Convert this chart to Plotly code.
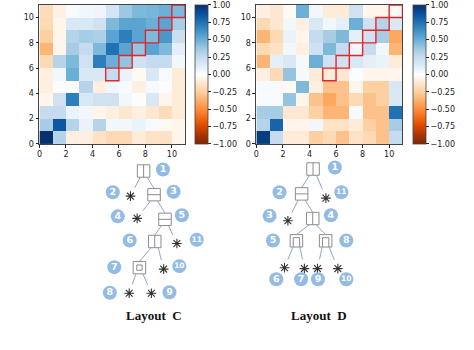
import plotly.graph_objects as go

# ---------------- data ----------------
cells = list(range(11))
axis_ticks = [0, 2, 4, 6, 8, 10]
cbar_vals = [1.0, 0.75, 0.5, 0.25, 0.0, -0.25, -0.5, -0.75, -1.0]
highlight = [5, 6, 7, 8, 9, 10]

# rows listed from top (y=10) to bottom (y=0)
layout_c_rows = [
    [-0.18, -0.07, 0.03, 0.05, 0.06, 0.18, 0.38, 0.45, 0.47, 0.50, 0.45],
    [-0.20, -0.05, 0.15, 0.15, 0.20, 0.45, 0.55, 0.55, 0.50, 0.55, 0.35],
    [-0.25, -0.05, 0.30, 0.35, 0.33, 0.55, 0.70, 0.55, 0.45, 0.60, 0.22],
    [-0.35, -0.05, 0.35, 0.25, 0.45, 0.75, 0.55, 0.40, 0.55, 0.45, 0.10],
    [-0.20, 0.30, 0.45, 0.20, 0.70, 0.50, 0.40, 0.20, 0.25, 0.25, 0.05],
    [-0.08, 0.05, 0.50, 0.15, 0.15, 0.25, 0.08, -0.03, 0.15, 0.03, -0.10],
    [-0.08, 0.02, 0.02, 0.30, -0.08, 0.05, 0.03, -0.08, 0.03, 0.02, -0.10],
    [-0.05, 0.20, 0.70, 0.15, 0.20, 0.20, 0.05, 0.02, 0.15, -0.05, -0.10],
    [0.25, 0.25, 0.08, 0.05, -0.05, -0.08, -0.12, -0.08, -0.12, -0.18, -0.10],
    [0.35, 0.85, 0.30, 0.08, 0.30, 0.05, 0.05, 0.08, 0.03, -0.03, -0.05],
    [1.00, 0.30, -0.08, -0.08, -0.15, -0.20, -0.20, -0.10, -0.15, -0.15, -0.05],
]
layout_d_rows = [
    [-0.08, -0.12, -0.03, 0.50, 0.05, -0.10, -0.10, 0.20, -0.05, -0.05, -0.03],
    [-0.20, -0.12, 0.05, -0.08, 0.15, 0.05, 0.10, 0.50, 0.20, 0.30, 0.15],
    [-0.35, -0.20, 0.08, -0.05, 0.25, 0.35, 0.45, 0.10, 0.20, 0.35, -0.40],
    [-0.20, -0.15, 0.05, -0.08, 0.20, 0.45, 0.25, 0.05, 0.25, 0.05, -0.35],
    [-0.35, 0.10, 0.15, 0.03, 0.50, 0.20, 0.20, 0.15, 0.10, 0.08, -0.10],
    [-0.08, -0.20, 0.40, 0.03, -0.10, -0.10, -0.12, 0.02, -0.05, -0.05, -0.05],
    [0.03, 0.03, -0.03, 0.45, -0.08, -0.30, -0.30, -0.05, -0.25, -0.25, 0.15],
    [0.03, 0.03, 0.40, -0.05, -0.30, -0.40, -0.30, -0.20, -0.30, -0.25, 0.15],
    [0.35, 0.35, -0.12, -0.12, -0.25, -0.35, -0.35, 0.03, -0.30, -0.30, 0.75],
    [0.30, 0.80, -0.05, -0.05, 0.05, -0.15, -0.15, -0.10, -0.25, -0.30, 0.35],
    [0.95, 0.25, -0.10, -0.10, -0.25, -0.20, -0.30, -0.15, -0.20, -0.30, 0.25],
]

# tree diagrams: (label, kind, x, y, parent, circle_x, circle_y) in page pixels
tree_c = [
    ("1", "v", 141.5, 173.5, None, 161.0, 172.0),
    ("2", "*", 128.3, 199.0, "1", 110.5, 195.0),
    ("3", "h", 152.0, 197.5, "1", 171.7, 194.5),
    ("4", "*", 135.0, 221.5, "3", 115.5, 219.5),
    ("5", "h", 163.0, 222.5, "3", 180.0, 218.3),
    ("6", "v", 152.7, 245.0, "5", 127.5, 244.0),
    ("11", "*", 175.0, 247.0, "5", 195.0, 243.3),
    ("7", "n", 137.3, 271.5, "6", 112.0, 271.0),
    ("10", "*", 161.7, 273.0, "6", 177.5, 270.0),
    ("8", "*", 127.0, 297.5, "7", 107.5, 297.0),
    ("9", "*", 149.3, 297.5, "7", 167.5, 296.5),
]
tree_d = [
    ("1", "v", 312.0, 171.5, None, 334.0, 170.0),
    ("2", "h", 300.5, 196.7, "1", 278.3, 195.0),
    ("11", "*", 325.0, 201.0, "1", 340.5, 195.0),
    ("3", "*", 286.7, 224.0, "2", 268.3, 219.0),
    ("4", "v", 311.7, 221.7, "2", 330.0, 218.3),
    ("5", "u", 295.3, 244.3, "4", 271.7, 244.0),
    ("8", "u", 324.7, 244.3, "4", 345.5, 244.0),
    ("6", "*", 283.3, 271.7, "5", 275.0, 283.3),
    ("7", "*", 303.3, 272.5, "5", 300.0, 283.3),
    ("9", "*", 316.5, 272.5, "8", 317.0, 283.3),
    ("10", "*", 337.0, 272.5, "8", 345.5, 283.3),
]
titles = [("Layout\u00a0 C", 151.5, 320.0), ("Layout\u00a0 D", 318.3, 320.0)]

# ---------------- styling ----------------
W, H = 474, 350
blues = ['#f7fbff', '#deebf7', '#c6dbef', '#9ecae1', '#6baed6', '#4292c6', '#2171b5', '#08519c', '#08306b']
oranges = ['#fff5eb', '#fee6ce', '#fdd0a2', '#fdae6b', '#fd8d3c', '#f16913', '#d94801', '#a63603', '#7f2704']
cscale = []
for k in range(8, 0, -1):
    cscale.append([0.5 - k / 16, oranges[k]])
cscale.append([0.5, '#ffffff'])
for k in range(1, 9):
    cscale.append([0.5 + k / 16, blues[k]])

tick_font = dict(family="DejaVu Sans", size=8, color="#222")
centers = [c + 0.5 for c in cells]


def fmt(v):
    s = f"{abs(v):.2f}"
    return ("\u2212" + s) if v < 0 else s


fig = go.Figure()

panels = [
    (layout_c_rows, 36.7, 183.3, 193.0, "x", "y"),
    (layout_d_rows, 255.0, 402.0, 413.0, "x2", "y2"),
]
top_px, bot_px = 5.0, 146.0
for rows, x0, x1, cbx, xa, ya in panels:
    z = rows[::-1]
    fig.add_trace(go.Heatmap(
        z=z, x=centers, y=centers, zmin=-1, zmax=1, colorscale=cscale,
        xaxis=xa, yaxis=ya, hoverinfo="skip",
        colorbar=dict(
            x=cbx / W, xanchor="left", xpad=0, thickness=13,
            len=(bot_px - top_px) / H, lenmode="fraction",
            y=1 - (top_px + bot_px) / 2 / H, yanchor="middle", ypad=0,
            tickvals=cbar_vals, ticktext=[fmt(v) for v in cbar_vals],
            ticks="outside", ticklen=3, tickwidth=0.8, tickcolor="#222",
            tickfont=tick_font, outlinewidth=0.8, outlinecolor="#444",
        ),
    ))
    for i in highlight:
        fig.add_shape(type="rect", xref=xa, yref=ya, x0=i, x1=i + 1, y0=i, y1=i + 1,
                      line=dict(color="#e3262b", width=1.4), fillcolor="rgba(0,0,0,0)")

axis_common = dict(range=[0, 11], tickvals=axis_ticks, ticks="outside", ticklen=3,
                   tickwidth=0.8, tickcolor="#222", tickfont=tick_font, showgrid=False,
                   zeroline=False, showline=True, linecolor="#444", linewidth=0.8,
                   mirror=True)
ydom = [1 - bot_px / H, 1 - top_px / H]
fig.update_layout(
    xaxis=dict(domain=[36.7 / W, 183.3 / W], anchor="y", **axis_common),
    yaxis=dict(domain=ydom, anchor="x", **axis_common),
    xaxis2=dict(domain=[255.0 / W, 402.0 / W], anchor="y2", **axis_common),
    yaxis2=dict(domain=ydom, anchor="x2", **axis_common),
    xaxis3=dict(domain=[0, 1], range=[0, W], visible=False, anchor="y3", fixedrange=True),
    yaxis3=dict(domain=[0, 1], range=[H, 0], visible=False, anchor="x3", fixedrange=True),
)

# ---------------- tree diagrams ----------------
half = 6.3
box_line = dict(color="#8c8c8c", width=1)
edge_line = dict(color="#8fa7c7", width=1)


def seg(xa0, ya0, xa1, ya1, line):
    fig.add_shape(type="line", xref="x3", yref="y3", x0=xa0, y0=ya0, x1=xa1, y1=ya1, line=line)


for tree in (tree_c, tree_d):
    pos = {n[0]: n for n in tree}
    star_x, star_y = [], []
    cx_l, cy_l, ctext, csize = [], [], [], []
    for label, kind, x, y, parent, ccx, ccy in tree:
        cx_l.append(ccx); cy_l.append(ccy); ctext.append(label)
        csize.append(7.5 if len(label) > 1 else 9.5)
        if kind == "*":
            star_x.append(x); star_y.append(y)
        else:
            fig.add_shape(type="rect", xref="x3", yref="y3", x0=x - half, x1=x + half,
                          y0=y - half, y1=y + half, line=box_line)
            if kind == "v":
                seg(x, y - half, x, y + half, box_line)
            elif kind == "h":
                seg(x - half, y, x + half, y, box_line)
            elif kind == "n":
                fig.add_shape(type="rect", xref="x3", yref="y3", x0=x - 2.7, x1=x + 2.7,
                              y0=y - 2.7, y1=y + 2.7, line=box_line)
            elif kind == "u":
                fig.add_shape(type="path", xref="x3", yref="y3",
                              path=f"M {x-3.2},{y+half} L {x-3.2},{y-3.2} L {x+3.2},{y-3.2} L {x+3.2},{y+half}",
                              line=box_line)
        if parent is not None:
            p = pos[parent]
            px, py = p[2], p[3]
            sx = px - 3.5 if x < px else px + 3.5
            sy = py + half
            if kind == "*":
                dx, dy = x - sx, y - sy
                L = (dx * dx + dy * dy) ** 0.5
                f = max(0.0, (L - 9.5) / L)
                ex, ey = sx + dx * f, sy + dy * f
            else:
                ex, ey = x, y - half
            seg(sx, sy, ex, ey, edge_line)
    fig.add_trace(go.Scatter(
        x=star_x, y=star_y, xaxis="x3", yaxis="y3", mode="markers", hoverinfo="skip",
        marker=dict(symbol="asterisk-open", size=8, color="#333",
                    line=dict(color="#333", width=1.1)),
        showlegend=False))
    fig.add_trace(go.Scatter(
        x=cx_l, y=cy_l, xaxis="x3", yaxis="y3", mode="markers+text", hoverinfo="skip",
        marker=dict(symbol="circle", size=14, color="#93bbe3"),
        text=ctext, textposition="middle center",
        textfont=dict(family="DejaVu Sans", size=csize, color="white", weight="bold"),
        showlegend=False))

for text, tx, ty in titles:
    fig.add_annotation(x=tx, y=ty, xref="x3", yref="y3", text=text, showarrow=False,
                       font=dict(family="Liberation Serif", size=13, color="#111", weight="bold"))

fig.update_layout(width=W, height=H, margin=dict(l=0, r=0, t=0, b=0),
                  paper_bgcolor="white", plot_bgcolor="rgba(0,0,0,0)", showlegend=False)

fig.write_html("out.html")
